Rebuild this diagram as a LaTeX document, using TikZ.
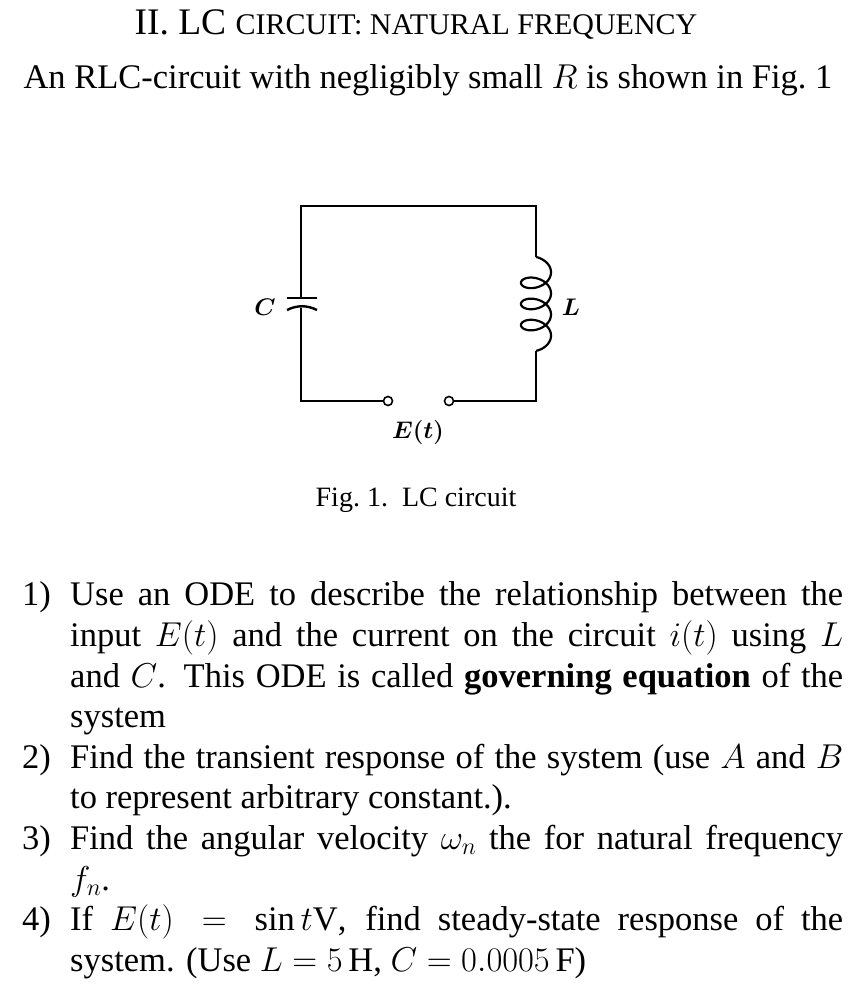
\documentclass[tikz,border=0pt]{standalone}
\usepackage{fix-cm}
\usepackage{fontspec}
\setmainfont{Liberation Serif}
\usepackage{enumitem}
\begin{document}
\begin{tikzpicture}[x=1pt,y=-1pt,
  wire/.style={line width=2.4pt, line join=miter},
  lab/.style={font=\fontsize{24}{28}\selectfont\boldmath},
  term/.style={circle, draw, line width=1.6pt, fill=white, minimum size=9pt, inner sep=0pt}]
\useasboundingbox (0,0) rectangle (864,996);
\node (title) at (416,25) {\fontsize{37.5}{42}\selectfont II.\ LC {\fontsize{30}{34}\selectfont CIRCUIT: NATURAL FREQUENCY}};
\node (intro) [anchor=west] at (20,80) {\fontsize{34.5}{40}\selectfont An RLC-circuit with negligibly small $R$ is shown in Fig.~1};
% circuit
\coordinate (tl) at (301,206);
\coordinate (tr) at (536,206);
\coordinate (ctop) at (301,298);
\coordinate (cbot) at (301,308);
\coordinate (ltop) at (536,257);
\coordinate (lbot) at (536,351);
\coordinate (bl) at (301,401);
\coordinate (br) at (536,401);
\node[term] (t1) at (388,401) {};
\node[term] (t2) at (449,401) {};
\draw[wire] (ctop) -- (tl) -- (tr) -- (ltop);
\draw[wire] (cbot) -- (bl) -- (t1);
\draw[wire] (t2) -- (br) -- (lbot);
\draw[wire] (287,298) -- (317,298);
\draw[wire] (287,310) .. controls (297,305) and (307,305) .. (317,310);
\draw[line width=2.2pt] plot[domain=0:21.99, samples=200, smooth] ({536+15*sin(\x r)}, {267+3.36*\x-10*cos(\x r)});
\node[lab] (C) at (265,307) {$C$};
\node[lab] (L) at (571,307) {$L$};
\node[lab] (E) at (418,432) {$E(t)$};
\node (cap) at (416,500) {\fontsize{28}{32}\selectfont Fig.~1.\ \ LC circuit};
\node (list) [anchor=north west, inner sep=0pt, text width=821pt, align=justify] at (22,565) {\fontsize{34.5}{40.6}\selectfont
\begin{enumerate}[label=\arabic*),leftmargin=48pt,labelwidth=40pt,labelsep=8pt,align=left,itemsep=0pt,topsep=0pt,parsep=0pt]
\item Use an ODE to describe the relationship between the\linebreak input $E(t)$ and the current on the circuit $i(t)$ using $L$\linebreak and $C$. This ODE is called \textbf{governing equation} of the\linebreak system
\item Find the transient response of the system (use $A$ and $B$\linebreak to represent arbitrary constant.).
\item Find the angular velocity $\omega_n$ the for natural frequency\linebreak $f_n$.
\item If $E(t) = \sin t\mathrm{V}$, find steady-state response of the\linebreak system. (Use $L=5\,\mathrm{H}$, $C=0.0005\,\mathrm{F}$)
\end{enumerate}};
\end{tikzpicture}
\end{document}
